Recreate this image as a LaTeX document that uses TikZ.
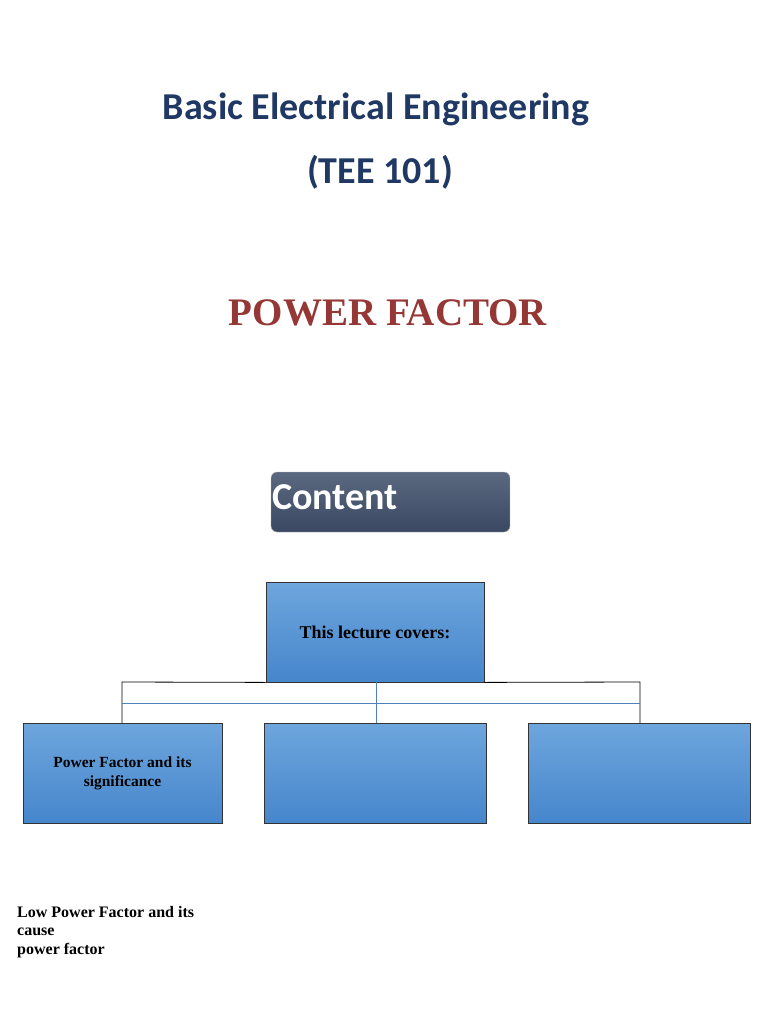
\documentclass[tikz,border=0pt]{standalone}
\usepackage{fontspec}
\setmainfont{Liberation Serif}
\newfontfamily\carlitofont{Carlito}
\definecolor{ttl}{HTML}{1F3864}
\definecolor{pf}{HTML}{953735}
\definecolor{bxt}{HTML}{6EA6DD}
\definecolor{bxb}{HTML}{4686CC}
\definecolor{ln}{HTML}{4F81BD}
\definecolor{ctt}{HTML}{5A6880}
\definecolor{ctb}{HTML}{3A4862}
\begin{document}
\begin{tikzpicture}[x=1pt,y=-1pt,
  bx/.style={draw=black!80,line width=0.8pt,top color=bxt,bottom color=bxb,inner sep=0pt,align=center}]
\useasboundingbox (0,0) rectangle (768,1024);
\node[font=\carlitofont\bfseries\fontsize{38}{44}\selectfont,text=ttl] (t1) at (376,109) {Basic Electrical Engineering};
\node[font=\carlitofont\bfseries\fontsize{38}{44}\selectfont,text=ttl] (t2) at (380,172) {(TEE 101)};
\node[font=\bfseries\fontsize{39}{44}\selectfont,text=pf] (t3) at (388,313) {POWER FACTOR};
\node[draw=black!30,rounded corners=6pt,top color=ctt,bottom color=ctb,minimum width=239pt,minimum height=60pt,inner sep=0pt] (ct) at (390.5,502) {};
\node[anchor=west,text=white,font=\carlitofont\bfseries\fontsize{38}{44}\selectfont,inner sep=0pt] (ctx) at (272,497) {Content};
\node[bx,minimum width=218pt,minimum height=100pt] (top) at (375,632) {};
\node[font=\bfseries\fontsize{18}{20}\selectfont] (toptxt) at (375,632) {This lecture covers:};
\draw[black,line width=0.8pt] (122,723) -- (122,682) -- (top.south west) (top.south east) -- (640,682) -- (640,723);
\coordinate (ml) at (122,703); \coordinate (mr) at (640,703);
\draw[ln,line width=0.6pt] (ml) -- (mr);
\draw[ln,line width=0.6pt] (top.south) ++(1,0) -- ++(0,41);
\node[bx,minimum width=199pt,minimum height=100pt] (b1) at (122.5,773) {};
\node[font=\bfseries\fontsize{15.5}{19}\selectfont,align=center] (b1t) at (122.5,773) {Power Factor and its\\significance};
\node[bx,minimum width=222pt,minimum height=100pt] (b2) at (375,773) {};
\node[bx,minimum width=222pt,minimum height=100pt] (b3) at (639,773) {};
\node[anchor=north west,align=left,font=\bfseries\fontsize{16}{18.5}\selectfont,inner sep=0pt] (lo) at (17,906) {Low Power Factor and its\\cause\\power factor};
\end{tikzpicture}
\end{document}
